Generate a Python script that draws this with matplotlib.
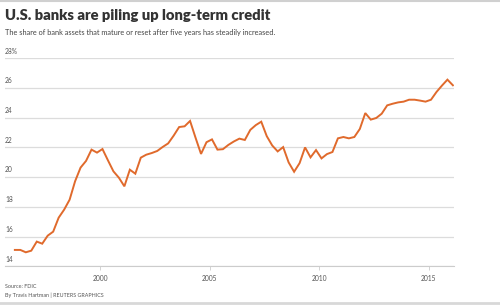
import matplotlib
matplotlib.use("Agg")
import matplotlib.pyplot as plt
from matplotlib.lines import Line2D
import numpy as np

# quarterly share (%) of bank assets maturing/resetting after 5+ years, 1996Q1 - 2016Q1
share = [15.10, 15.10, 14.94, 15.05, 15.66, 15.52, 16.06, 16.33, 17.27, 17.81,
         18.48, 19.72, 20.64, 21.09, 21.85, 21.65, 21.89, 21.13, 20.39, 19.96,
         19.38, 20.50, 20.23, 21.31, 21.51, 21.62, 21.76, 22.03, 22.27, 22.79,
         23.37, 23.42, 23.78, 22.65, 21.56, 22.35, 22.54, 21.85, 21.88, 22.17,
         22.40, 22.59, 22.50, 23.18, 23.50, 23.73, 22.76, 22.13, 21.73, 22.02,
         20.99, 20.36, 20.94, 22.00, 21.33, 21.82, 21.26, 21.55, 21.69, 22.61,
         22.70, 22.61, 22.70, 23.24, 24.31, 23.87, 23.98, 24.27, 24.83, 24.94,
         25.03, 25.08, 25.21, 25.21, 25.15, 25.08, 25.21, 25.73, 26.16, 26.56,
         26.18]
start_year = 1996.11
years = start_year + 0.25 * np.arange(len(share))

y_ticks = [14, 16, 18, 20, 22, 24, 26, 28]
y_labels = ["14", "16", "18", "20", "22", "24", "26", "28%"]
x_ticks = [2000, 2005, 2010, 2015]

title = "U.S. banks are piling up long-term credit"
subtitle = "The share of bank assets that mature or reset after five years has steadily increased."
source = "Source: FDIC"
credit = "By Travis Hartman | REUTERS GRAPHICS"

plt.rcParams['font.family'] = ['Lato', 'DejaVu Sans']

fig = plt.figure(figsize=(5, 3.05), dpi=100)
ax = fig.add_axes([0.01, 0.127, 0.898, 0.682])

ax.plot(years, share, color='#E06A2C', lw=1.4, solid_joinstyle='miter', zorder=3)

ax.set_xlim(1995.66, 2016.16)
ax.set_ylim(14, 28)

for s in ['top', 'right', 'left']:
    ax.spines[s].set_visible(False)
ax.spines['bottom'].set_color('#cccccc')
ax.spines['bottom'].set_linewidth(0.8)

ax.set_yticks(y_ticks)
ax.set_yticklabels([])
ax.tick_params(axis='y', length=0)
ax.grid(axis='y', color='#dcdcdc', lw=0.9)
ax.set_axisbelow(True)

ax.set_xticks(x_ticks)
ax.set_xticklabels([str(t) for t in x_ticks], fontsize=4.8, color='#555555')
ax.tick_params(axis='x', length=3, width=0.6, color='#cccccc', pad=3)

for v, lab in zip(y_ticks, y_labels):
    ax.text(0.0, v + 0.25, lab, transform=ax.get_yaxis_transform(),
            fontsize=4.8, color='#555555', ha='left', va='bottom')

fig.text(0.01, 1 - 20 / 305, title, fontsize=10.6, fontweight='heavy',
         color='#333333', ha='left', va='baseline')
fig.text(0.01, 1 - 35 / 305, subtitle, fontsize=5.3, color='#444444',
         ha='left', va='baseline')
fig.text(0.01, 1 - 288.5 / 305, source, fontsize=3.9, color='#555555',
         ha='left', va='baseline')
fig.text(0.01, 1 - 296.5 / 305, credit, fontsize=3.9, color='#555555',
         ha='left', va='baseline')

# thin card borders top and bottom
fig.add_artist(Line2D([0, 1], [0.998, 0.998], color='#d0d0d0', lw=1.5))
fig.add_artist(Line2D([0, 1], [0.006, 0.006], color='#d8d8d8', lw=2))

fig.savefig("out.png", dpi=100)
